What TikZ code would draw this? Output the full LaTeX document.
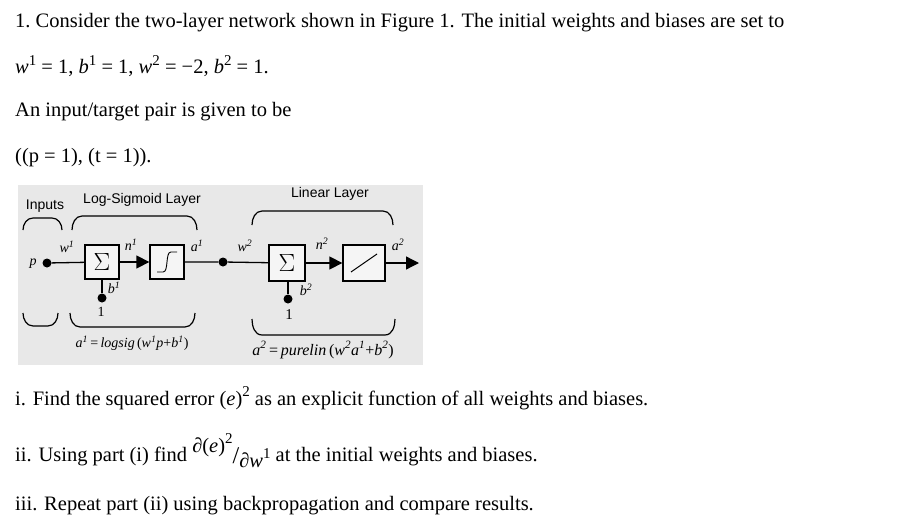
\documentclass[tikz,border=0pt]{standalone}
\usepackage{fontspec}
\usetikzlibrary{arrows.meta}
\setmainfont{Liberation Serif}
\setsansfont{Liberation Sans}
\newcommand{\mi}[1]{\textit{#1}}
\newcommand{\sps}[1]{\raisebox{0.4em}{\fontsize{15}{15}\selectfont #1}}
\begin{document}
\begin{tikzpicture}[x=1pt,y=-1pt,
  txt/.style={anchor=base west,inner sep=0pt,font=\fontsize{20.5}{24}\selectfont},
  lab/.style={inner sep=0pt,font=\fontsize{14}{16}\selectfont\itshape},
  sans/.style={inner sep=0pt,font=\sffamily\fontsize{14}{16}\selectfont},
  blk/.style={draw,line width=1.3pt,minimum width=34pt,minimum height=34pt,inner sep=0pt,fill=white!92!gray},
  brace/.style={line width=1.2pt},
  wire/.style={line width=1.3pt},
  arr/.style={wire,-{Triangle[length=13pt,width=13pt]}},
  dot/.style={circle,fill=black,inner sep=0pt,minimum size=9pt}]
\useasboundingbox (0,0) rectangle (897,524);
\fill[white] (0,0) rectangle (897,524);
\node[txt] (l1) at (15,28) {1.\ Consider the two-layer network shown in Figure 1. The initial weights and biases are set to};
\node[txt] (l2) at (15,74) {\mi{w}\sps{1} = 1, \mi{b}\sps{1} = 1, \mi{w}\sps{2} = −2, \mi{b}\sps{2} = 1.};
\node[txt] (l3) at (15,117) {An input/target pair is given to be};
\node[txt] (l4) at (15,162) {((p = 1), (t = 1)).};
% photo
\fill[gray!18] (18,185) rectangle (423,365);
\node[sans] (inp) at (45,206) {Inputs};
\node[sans] (lsl) at (142,200) {Log-Sigmoid Layer};
\node[sans] (ll) at (330,194) {Linear Layer};
\draw[brace] (23,230) to[out=90,in=180] (33,218) -- (52,218) to[out=0,in=90] (62,230);
\draw[brace] (72,230) to[out=90,in=180] (82,216) -- (187,216) to[out=0,in=90] (197,230);
\draw[brace] (252,225) to[out=90,in=180] (262,211) -- (383,211) to[out=0,in=90] (393,225);
\draw[brace] (23,313) to[out=-90,in=180] (33,326) -- (48,326) to[out=0,in=-90] (58,313);
\draw[brace] (70,313) to[out=-90,in=180] (80,327) -- (185,327) to[out=0,in=-90] (195,313);
\draw[brace] (252,319) to[out=-90,in=180] (262,335) -- (385,335) to[out=0,in=-90] (395,319);
\node[dot] (p) at (47,263) {};
\node[lab] (pl) at (33,264) {p};
\node[blk] (s1) at (102,262) {\fontsize{24}{24}\selectfont$\Sigma$};
\node[blk] (f1) at (167,262) {};
\draw[line width=0.9pt] ([shift={(-10,10)}]f1.center) -- ([shift={(-4,10)}]f1.center) .. controls ([shift={(2,10)}]f1.center) and ([shift={(-2,-10)}]f1.center) .. ([shift={(4,-10)}]f1.center) -- ([shift={(10,-10)}]f1.center);
\node[dot] (a1d) at (223,262) {};
\node[blk,minimum width=36pt,minimum height=36pt] (s2) at (287,263) {\fontsize{26}{26}\selectfont$\Sigma$};
\node[blk,minimum width=42pt,minimum height=36pt] (f2) at (364,263) {};
\draw[line width=1pt] ([shift={(-13,9)}]f2.center) -- ([shift={(13,-9)}]f2.center);
\coordinate (out) at (419,263);
\draw[wire] (p) -- (s1);
\draw[arr] (s1) -- (f1);
\draw[wire] (f1) -- (a1d) -- (s2);
\draw[arr] (s2) -- (f2);
\draw[arr] (f2) -- (out);
\node[dot] (b1d) at (102,298) {};
\node[dot] (b2d) at (288,299) {};
\draw[wire] (s1) -- (b1d);
\draw[wire] (s2.south -| b2d) -- (b2d);
\node[lab] (w1l) at (67,247) {w\textsuperscript{1}};
\node[lab] (n1l) at (131,245) {n\textsuperscript{1}};
\node[lab] (a1l) at (197,246) {a\textsuperscript{1}};
\node[lab] (w2l) at (245,246) {w\textsuperscript{2}};
\node[lab] (n2l) at (322,244) {n\textsuperscript{2}};
\node[lab] (a2l) at (398,245) {a\textsuperscript{2}};
\node[lab] (b1l) at (114,288) {b\textsuperscript{1}};
\node[lab] (b2l) at (306,290) {b\textsuperscript{2}};
\node[inner sep=0pt,font=\fontsize{14}{16}\selectfont] (one1) at (101,312) {1};
\node[inner sep=0pt,font=\fontsize{15}{16}\selectfont] (one2) at (289,315) {1};
\node[lab] (eq1) at (132,343) {a\textsuperscript{1}\,\upshape=\,\itshape logsig\,\upshape(\itshape w\textsuperscript{1}p\upshape+\itshape b\textsuperscript{1}\upshape)};
\node[lab,font=\fontsize{16}{18}\selectfont\itshape] (eq2) at (323,350) {a\textsuperscript{2}\,\upshape=\,\itshape purelin\,\upshape(\itshape w\textsuperscript{2}a\textsuperscript{1}\upshape+\itshape b\textsuperscript{2}\upshape)};
% questions
\node[txt] (q1) at (15,405) {i. Find the squared error (\mi{e})\sps{2} as an explicit function of all weights and biases.};
\node[txt] (q2) at (15,461) {ii. Using part (i) find \raisebox{9pt}{∂(\mi{e})\sps{2}}\raisebox{-2pt}{\fontsize{24}{24}\selectfont/}\raisebox{-6pt}{∂\mi{w}\sps{1}} at the initial weights and biases.};
\node[txt] (q3) at (15,510) {iii. Repeat part (ii) using backpropagation and compare results.};
\end{tikzpicture}
\end{document}
